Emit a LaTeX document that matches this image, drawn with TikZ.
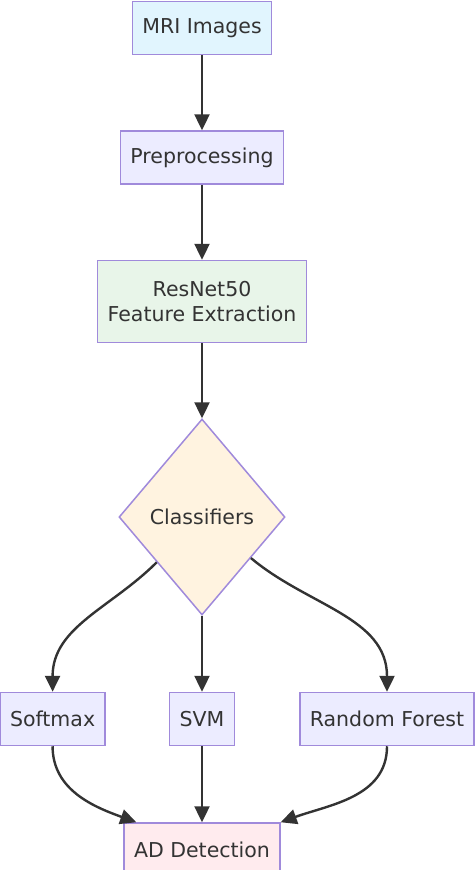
\documentclass[tikz,border=0pt]{standalone}
\usepackage{fontspec}
\setmainfont{DejaVu Sans}
\usetikzlibrary{arrows.meta, positioning, shapes.geometric}

\definecolor{edgegray}{HTML}{333333}
\definecolor{labelgray}{HTML}{333333}
\definecolor{nodeborder}{HTML}{A08ADB}
\definecolor{mrifill}{HTML}{E1F5FE}
\definecolor{stepfill}{HTML}{ECECFF}
\definecolor{featfill}{HTML}{E8F5E9}
\definecolor{clsfill}{HTML}{FFF3E0}
\definecolor{adfill}{HTML}{FFEBEE}

\begin{document}
\begin{tikzpicture}[
  font=\fontsize{20.5}{25}\selectfont,
  text=labelgray,
  node distance=75pt and 63pt,
  arrow/.style={-{Triangle[length=16pt,width=15pt]}, line width=2.4pt, draw=edgegray},
  box/.style={rectangle, draw=nodeborder, line width=1.5pt, align=center,
              minimum height=53pt, inner xsep=10pt},
  decision/.style={diamond, draw=nodeborder, line width=1.5pt, aspect=0.85,
                   minimum width=166pt, minimum height=196pt, inner sep=0pt}
]
\useasboundingbox (0,0) rectangle (474pt,-870pt);

\node[box, fill=mrifill] (mri) at (202pt,-28pt) {MRI Images};
\node[box, fill=stepfill, below=of mri] (prep) {Preprocessing};
\node[box, fill=featfill, minimum height=82pt, below=of prep] (resnet)
{ResNet50\\Feature Extraction};
\node[decision, fill=clsfill, below=of resnet] (cls) {Classifiers};

\node[box, fill=stepfill, below=76pt of cls] (svm) {SVM};
\node[box, fill=stepfill, left=of svm] (soft) {Softmax};
\node[box, fill=stepfill, right=64pt of svm] (rf) {Random Forest};
\node[box, fill=adfill, below=76pt of svm] (ad) {AD Detection};

\draw[arrow] (mri) -- (prep);
\draw[arrow] (prep) -- (resnet);
\draw[arrow] (resnet) -- (cls);

\draw[arrow] (cls.-135) to[out=-135, in=90] (soft.north);
\draw[arrow] (cls) -- (svm);
\draw[arrow] (cls.-40) to[out=-40, in=90] (rf.north);

\draw[arrow] (soft.south) to[out=-90, in=160] ([xshift=13pt]ad.north west);
\draw[arrow] (svm) -- (ad);
\draw[arrow] (rf.south) to[out=-90, in=20] (ad.north east);

\end{tikzpicture}
\end{document}
